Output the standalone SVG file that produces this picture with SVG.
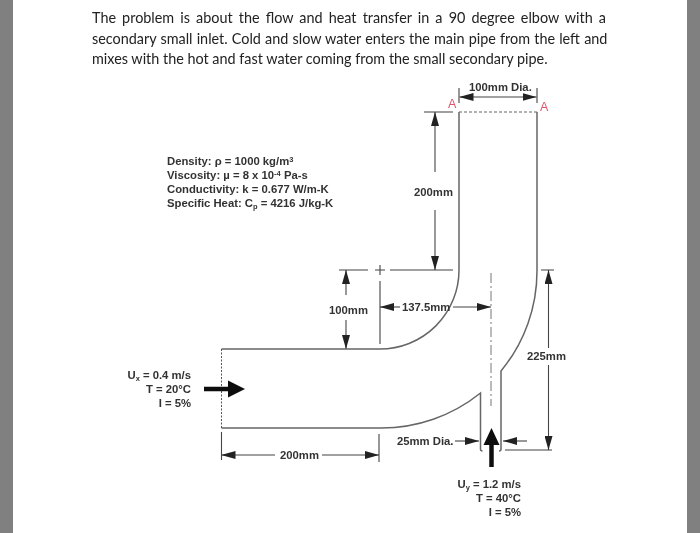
<svg xmlns="http://www.w3.org/2000/svg" width="700" height="533" viewBox="0 0 700 533">
<defs>
<marker id="ah" viewBox="0 0 14 8" refX="14" refY="4" markerWidth="14" markerHeight="8" markerUnits="userSpaceOnUse" orient="auto-start-reverse"><path d="M0 0L14 4L0 8z" fill="#222"/></marker>
<filter id="soft" x="0" y="0" width="1" height="1"><feGaussianBlur stdDeviation="0.45"/></filter>
<filter id="softer" x="0" y="0" width="1" height="1"><feGaussianBlur stdDeviation="0.3"/></filter>
</defs>
<style>
.para{font-family:Lato,"Open Sans",sans-serif;font-size:14.4px;fill:#222}
.lb{font-family:"Liberation Sans",Arial,sans-serif;font-size:11.3px;font-weight:700;fill:#333}
.r{text-anchor:end}
.sub{font-size:7.5px}
.red{font-family:"Liberation Sans",Arial,sans-serif;font-size:12.5px;fill:#e0566a}
.pipe{fill:none;stroke:#666;stroke-width:1.5}
.dim{fill:none;stroke:#444;stroke-width:1.1}
.arr{fill:none;stroke:#444;stroke-width:1.1;marker-end:url(#ah)}
</style>
<rect width="700" height="533" fill="#fff"/>
<rect x="0" y="0" width="13" height="533" fill="#808080"/>
<rect x="687" y="0" width="13" height="533" fill="#808080"/>
<g id="paragraph" filter="url(#softer)">
<text class="para" x="92" y="23" word-spacing="2.43">The problem is about the flow and heat transfer in a 90 degree elbow with a</text>
<text class="para" x="92" y="43.500" word-spacing="0.5">secondary small inlet. Cold and slow water enters the main pipe from the left and</text>
<text class="para" x="92" y="63.500">mixes with the hot and fast water coming from the small secondary pipe.</text>
</g>
<g filter="url(#soft)">
<g id="connectors">
<path class="dim" d="M459 88V103M537 88V103"/>
<path class="arr" d="M498 97H459.500"/><path class="arr" d="M498 97H536.500"/>
<path class="dim" d="M424 112H453M390 270H453M339 270H368M375 270H385M380 265V275M380 281V344"/>
<path class="arr" d="M435 172V112"/><path class="arr" d="M435 210V270"/>
<path class="arr" d="M346 295V270"/><path class="arr" d="M346 320V349"/>
<path class="arr" d="M400 307H380"/><path class="arr" d="M453 307H491"/>
<path class="dim" d="M541 270H554M505 450H552"/>
<path class="arr" d="M548.500 348V270"/><path class="arr" d="M548.500 365V450"/>
<path class="dim" d="M221.500 432V460M379 434V462"/>
<path class="arr" d="M275 455H221.500"/><path class="arr" d="M322 455H379"/>
<path class="arr" d="M455 441H479"/><path class="arr" d="M527 441H503"/>
<path d="M491 273V406" fill="none" stroke="#777" stroke-width="1" stroke-dasharray="10 3 2 3"/>
</g>
<g id="elbow">
<path class="pipe" d="M459 112V270A79 79 0 0 1 380 349H221.500"/>
<path class="pipe" d="M537 112V270A157 157 0 0 1 501 371V449Q501 451 499 451"/>
<path class="pipe" d="M221.500 428H380A158 158 0 0 0 480.500 393V449Q480.500 451 482.500 451"/>
<path d="M459 112H537" fill="none" stroke="#666" stroke-width="1.2" stroke-dasharray="3 2"/>
<path d="M221.500 349V428" fill="none" stroke="#555" stroke-width="1" stroke-dasharray="2 1.500"/>
</g>
<g id="inlet-x">
<path d="M204 389H230" stroke="#111" stroke-width="4.500" fill="none"/><path d="M228 380.500L245 389L228 397.500z" fill="#111"/>
<text class="lb r" x="191" y="379">U<tspan class="sub" dy="2">x</tspan><tspan dy="-2"> = 0.4 m/s</tspan></text>
<text class="lb r" x="191" y="393">T = 20°C</text>
<text class="lb r" x="191" y="407">I = 5%</text>
</g>
<g id="inlet-y">
<path d="M491.500 467V442" stroke="#111" stroke-width="4.500" fill="none"/><path d="M483.500 445L491.500 428L499.500 445z" fill="#111"/>
<text class="lb r" x="521" y="488">U<tspan class="sub" dy="2">y</tspan><tspan dy="-2"> = 1.2 m/s</tspan></text>
<text class="lb r" x="521" y="502">T = 40°C</text>
<text class="lb r" x="521" y="516">I = 5%</text>
</g>
<g id="labels">
<text class="lb" x="469" y="91">100mm Dia.</text>
<text class="red" x="448" y="108">A</text>
<text class="red" x="540" y="110.500">A</text>
<text class="lb" x="414" y="195.500">200mm</text>
<text class="lb" x="329" y="314">100mm</text>
<text class="lb" x="402" y="311">137.5mm</text>
<text class="lb" x="527" y="360">225mm</text>
<text class="lb" x="397" y="445">25mm Dia.</text>
<text class="lb" x="280" y="459">200mm</text>
</g>
<g id="properties">
<text class="lb" x="167" y="165">Density: ρ = 1000 kg/m<tspan class="sub" dy="-3">3</tspan></text>
<text class="lb" x="167" y="179">Viscosity: µ = 8 x 10<tspan class="sub" dy="-3">-4</tspan><tspan dy="3"> Pa-s</tspan></text>
<text class="lb" x="167" y="193">Conductivity: k = 0.677 W/m-K</text>
<text class="lb" x="167" y="207">Specific Heat: C<tspan class="sub" dy="2">p</tspan><tspan dy="-2"> = 4216 J/kg-K</tspan></text>
</g>
</g>
</svg>
